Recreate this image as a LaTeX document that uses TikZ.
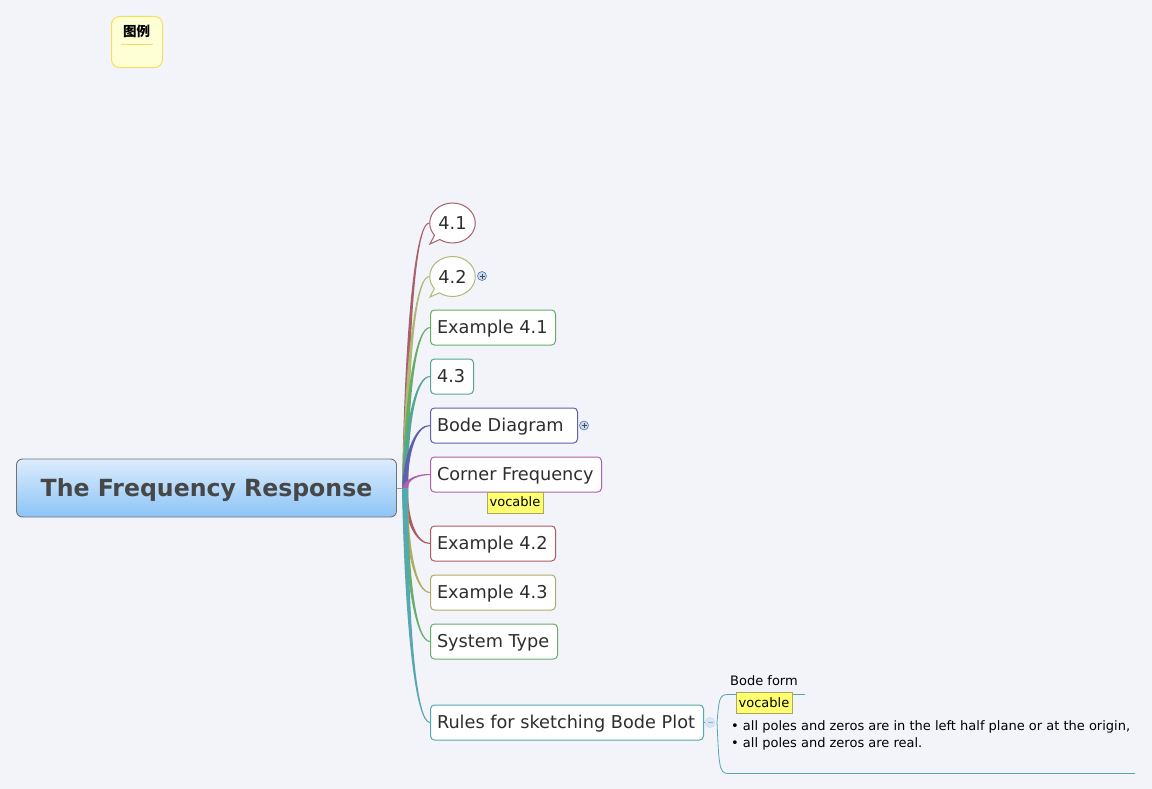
\documentclass[tikz,border=0pt]{standalone}
\usepackage{fontspec}
\setmainfont{DejaVu Sans}
\newfontfamily\cjkfont{Noto Sans CJK SC}
\usetikzlibrary{shapes.callouts,calc}
\definecolor{bgc}{HTML}{F2F4F9}
\definecolor{cA}{HTML}{A8606A}
\definecolor{cB}{HTML}{B0B878}
\definecolor{cC}{HTML}{66AE66}
\definecolor{cD}{HTML}{55A595}
\definecolor{cE}{HTML}{5F5FAE}
\definecolor{cF}{HTML}{AE60AA}
\definecolor{cG}{HTML}{AE5A60}
\definecolor{cH}{HTML}{ADAD66}
\definecolor{cI}{HTML}{66AE6A}
\definecolor{cJ}{HTML}{55A8AE}
\definecolor{txt}{HTML}{2E2E2E}
\definecolor{vocy}{HTML}{FFFF70}
\definecolor{vocl}{HTML}{A8A860}
\definecolor{foldc}{HTML}{C8DAF2}
\definecolor{foldl}{HTML}{5578A8}
\definecolor{legl}{HTML}{F4E060}
\definecolor{legf}{HTML}{FFFFD6}
\definecolor{rootT}{HTML}{DCECFD}
\definecolor{rootB}{HTML}{8CC4F6}
\tikzset{
  x=1pt,y=-1pt,
  topicbox/.style={draw=#1,fill=white,rounded corners=4pt,anchor=west,inner xsep=6.5pt,inner ysep=0pt,
    minimum height=35pt,font=\fontsize{17.7}{18}\selectfont,text=txt,text height=14pt,text depth=3pt,line width=1pt},
  bubble/.style={ellipse callout,draw=#1,fill=white,anchor=center,minimum width=45.5pt,minimum height=40pt,inner sep=0pt,
    font=\fontsize{17.7}{18}\selectfont,text=txt,text height=13pt,text depth=0pt,line width=1pt,callout pointer arc=18},
  vocab/.style={draw=vocl,fill=vocy,inner xsep=2pt,inner ysep=0pt,minimum width=56pt,minimum height=21pt,
    font=\fontsize{13}{13}\selectfont,text=black,line width=.7pt},
  small/.style={font=\fontsize{13}{17}\selectfont,text=black,inner sep=0pt,align=left},
  fold/.style={circle,draw=#1,fill=foldc,minimum size=9pt,inner sep=0pt},
}
\newcommand{\wbox}[2]{\makebox[#1pt][l]{#2}}
\newcommand{\branch}[2]{%
  \fill[#2] let \p1=(hub), \p2=(#1.west), \n1={ifthenelse(\y2>\y1,1,-1)} in
    ({\x1-3pt},\y1) .. controls ({\x1-.2pt},{0.4*\y1+0.6*\y2}) and ({\x2-14.5pt},{\y2+\n1*.9pt}) .. ({\x2},{\y2+\n1*.5pt})
    -- ({\x2},{\y2-\n1*.5pt}) .. controls ({\x2-13pt},{\y2-\n1*.9pt}) and ({\x1+2.8pt},{0.4*\y1+0.6*\y2}) .. ({\x1+3pt},\y1) -- cycle;}
\begin{document}
\begin{tikzpicture}
\fill[bgc] (0,0) rectangle (1152,789);
\useasboundingbox (0,0) rectangle (1152,789);

% legend
\node[draw=legl,fill=legf,rounded corners=8pt,minimum width=51pt,minimum height=51pt,inner sep=0pt,line width=1pt] (legend) at (137,42) {};
\node[font=\cjkfont\bfseries\fontsize{13.5}{13.5}\selectfont,text=black,inner sep=0pt] (legendtitle) at (136.5,31.5) {图例};
\draw[legl,line width=.8pt] (121,44.5) -- (153,44.5);

% root
\node[draw=black!55,top color=rootT,bottom color=rootB,rounded corners=6pt,minimum width=380pt,minimum height=58pt,inner sep=0pt,
  font=\bfseries\fontsize{23.6}{25}\selectfont,text=black!72,text height=20pt,text depth=3pt,line width=.9pt] (root) at (206.5,488) {The Frequency Response};
\coordinate (hub) at (405,488);

% topics
\node[bubble=cA,callout absolute pointer={(430,244)}] (n1) at (452.5,223) {4.1};
\node[bubble=cB,callout absolute pointer={(430,297)}] (n2) at (452.5,276.5) {4.2};
\node[topicbox=cC] (n3) at (430,327.5) {\wbox{112}{Example 4.1}};
\node[topicbox=cD] (n4) at (430,376.5) {\wbox{30}{4.3}};
\node[topicbox=cE] (n5) at (430,425.5) {\wbox{134}{Bode Diagram}};
\node[topicbox=cF] (n6) at (430,474.5) {\wbox{158}{Corner Frequency}};
\node[topicbox=cG] (n7) at (430,543.5) {\wbox{112}{Example 4.2}};
\node[topicbox=cH] (n8) at (430,592.5) {\wbox{112}{Example 4.3}};
\node[topicbox=cI] (n9) at (430,641.5) {\wbox{114}{System Type}};
\node[topicbox=cJ] (n10) at (430,722.5) {\wbox{260}{Rules for sketching Bode Plot}};

% branches
\draw[black!40,line width=1pt] (root.east) -- (hub);
\branch{n1}{cA}
\branch{n2}{cB}
\branch{n3}{cC}
\branch{n4}{cD}
\branch{n5}{cE}
\branch{n7}{cG}
\branch{n8}{cH}
\branch{n9}{cI}
\branch{n6}{cF}
\branch{n10}{cJ}

% vocable under Corner Frequency
\node[vocab] (v1) at (515,502.5) {\raisebox{1pt}{vocable}};

% fold markers
\node[fold=foldl,minimum size=9pt,line width=.6pt] (p1) at (482,276) {};
\draw[black!70,line width=.5pt] (p1.center)+(-2.5,0) -- +(2.5,0) (p1.center)+(0,-2.5) -- +(0,2.5);
\node[fold=foldl,minimum size=9pt,line width=.6pt] (p2) at (584,425.5) {};
\draw[black!70,line width=.5pt] (p2.center)+(-2.5,0) -- +(2.5,0) (p2.center)+(0,-2.5) -- +(0,2.5);
\coordinate (subhub) at (717,722.5);
\node[fold=foldc,fill=foldc!70!white,minimum size=10pt,line width=.5pt] (p3) at (710,722.5) {};
\draw[foldl!60,line width=.5pt] (p3.center)+(-2.5,0) -- +(2.5,0);

% sub-topic
\coordinate (e1) at (805,694.5);
\coordinate (e2) at (1135,773.5);
\draw[cJ,line width=.8pt] (n10.east) -- (p3);
\draw[cJ,line width=.8pt] (subhub) .. controls (719,700) and (719,694.5) .. (728,694.5) -- (e1);
\draw[cJ,line width=.8pt] (subhub) .. controls (719,765) and (719,773.5) .. (728,773.5) -- (e2);
\node[small,anchor=west] (bf) at (730,681) {Bode form};
\node[vocab,minimum height=21pt] (v2) at (764,703) {vocable};
\node[small,anchor=north west] (body) at (731,720.5) {• all poles and zeros are in the left half plane or at the origin,\\• all poles and zeros are real.};
\end{tikzpicture}
\end{document}
